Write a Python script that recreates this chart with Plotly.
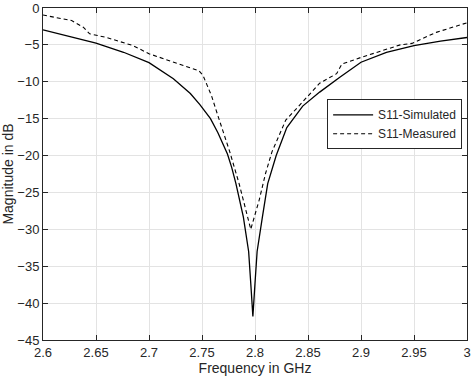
import plotly.graph_objects as go

sim_f = [2.600, 2.625, 2.650, 2.676, 2.700, 2.723, 2.739, 2.748, 2.758, 2.765, 2.770, 2.774, 2.778, 2.782,
         2.789, 2.794, 2.796, 2.798, 2.800, 2.802, 2.807, 2.812, 2.820, 2.830, 2.845, 2.861, 2.880, 2.900,
         2.924, 2.950, 2.975, 3.000]
sim_db = [-2.95, -3.8, -4.75, -6.0, -7.4, -9.6, -11.6, -13.1, -15.0, -16.9, -18.6, -19.8, -21.6, -23.8,
          -28.3, -33.0, -37.3, -41.8, -37.3, -33.0, -28.3, -23.8, -20.0, -16.2, -13.3, -11.4, -9.4, -7.35,
          -6.0, -5.1, -4.5, -4.0]

meas_f = [2.600, 2.627, 2.638, 2.644, 2.660, 2.685, 2.700, 2.723, 2.747, 2.751, 2.759, 2.765, 2.771, 2.776,
          2.785, 2.791, 2.796, 2.804, 2.810, 2.816, 2.829, 2.840, 2.861, 2.877, 2.882, 2.900, 2.924,
          2.937, 2.948, 2.971, 3.000]
meas_db = [-0.95, -1.7, -2.6, -3.5, -4.0, -5.1, -6.2, -7.35, -8.5, -9.15, -11.9, -14.6, -17.3, -19.4,
           -23.8, -27.4, -30.0, -26.0, -22.4, -19.5, -15.2, -13.5, -10.2, -8.9, -7.6, -6.7, -5.6,
           -5.0, -4.8, -3.3, -2.0]

x_ticks = [2.6, 2.65, 2.7, 2.75, 2.8, 2.85, 2.9, 2.95, 3.0]
x_labels = ["2.6", "2.65", "2.7", "2.75", "2.8", "2.85", "2.9", "2.95", "3"]
y_ticks = [0, -5, -10, -15, -20, -25, -30, -35, -40, -45]

FONT = "Liberation Sans, Arial, sans-serif"
INK = "#262626"

fig = go.Figure()
fig.add_trace(go.Scatter(x=sim_f, y=sim_db, mode="lines", name="S11-Simulated",
                         line=dict(color="black", width=1.3)))
fig.add_trace(go.Scatter(x=meas_f, y=meas_db, mode="lines", name="S11-Measured",
                         line=dict(color="black", width=1.1, dash="4px,3px")))

axis_common = dict(showline=True, linecolor=INK, linewidth=1, mirror="ticks",
                   ticks="inside", ticklen=5, tickcolor=INK, automargin=False,
                   showgrid=True, gridcolor="#e3e3e3", gridwidth=1, zeroline=False,
                   tickfont=dict(family=FONT, size=13, color=INK))

fig.update_xaxes(range=[2.6, 3.0], tickvals=x_ticks, ticktext=x_labels,
                 title=dict(text="Frequency in GHz", font=dict(family=FONT, size=14, color=INK), standoff=4),
                 **axis_common)
fig.update_yaxes(range=[-45, 0], tickvals=y_ticks,
                 title=dict(text="Magnitude in dB", font=dict(family=FONT, size=14, color=INK), standoff=4),
                 **axis_common)

fig.update_layout(
    width=474, height=383,
    margin=dict(l=43, r=7, t=8, b=43),
    plot_bgcolor="white", paper_bgcolor="white",
    showlegend=True,
    legend=dict(x=0.9885, y=0.725, xanchor="right", yanchor="top",
                bgcolor="white", bordercolor=INK, borderwidth=1,
                font=dict(family=FONT, size=12, color=INK),
                itemwidth=40, tracegroupgap=0),
)

fig.write_html("out.html", config={"displayModeBar": False},
               post_script="document.body.style.margin='0';")
